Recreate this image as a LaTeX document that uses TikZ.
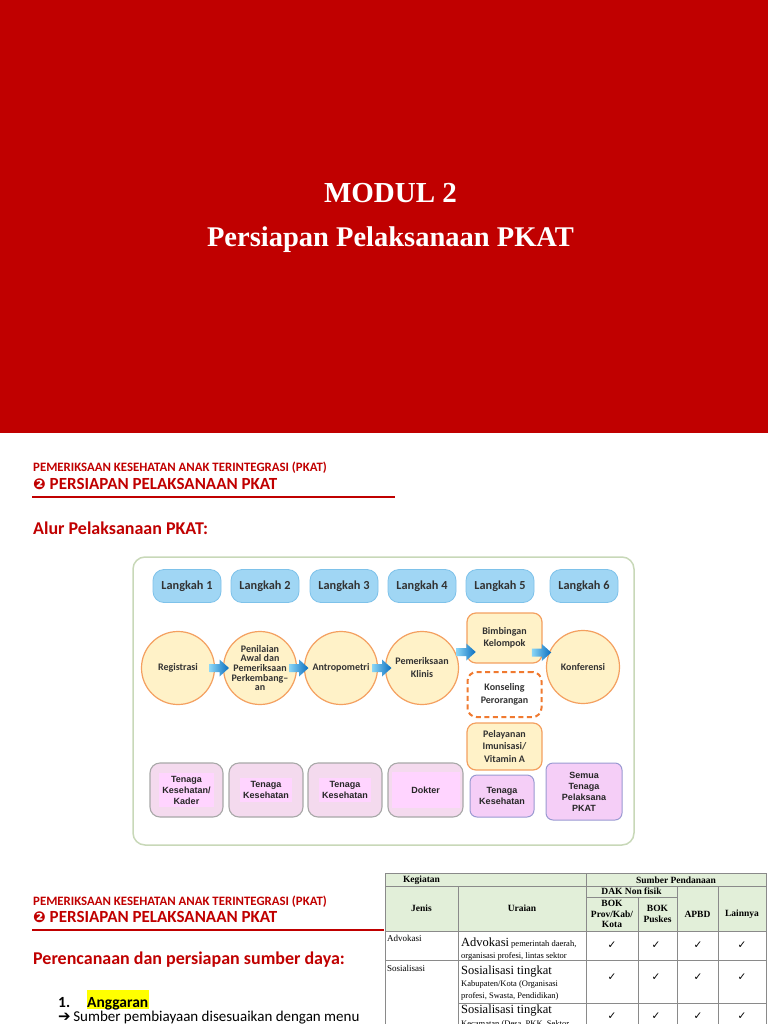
\documentclass[tikz,border=0pt]{standalone}
\usepackage{fontspec}
\setmainfont{Carlito}
\newfontfamily\timesf{Liberation Serif}
\newfontfamily\arialf{Liberation Sans}
\newfontfamily\dejavuf{DejaVu Sans}
\usetikzlibrary{calc}
\definecolor{pkred}{HTML}{C00000}
\definecolor{pillf}{HTML}{A0D6F4}
\definecolor{pillb}{HTML}{7EC2EA}
\definecolor{txtd}{HTML}{333333}
\definecolor{orng}{HTML}{F4A060}
\definecolor{orngd}{HTML}{F07A30}
\definecolor{cream}{HTML}{FFF2C8}
\definecolor{pinko}{HTML}{F4DAEE}
\definecolor{pinki}{HTML}{FFD4FF}
\definecolor{pinkb}{HTML}{A8A8A8}
\definecolor{violf}{HTML}{F5CEF7}
\definecolor{violb}{HTML}{9A9AD2}
\definecolor{arrl}{HTML}{8AD6F6}
\definecolor{arrd}{HTML}{0A6EC0}
\definecolor{frameb}{HTML}{C8D8B8}
\definecolor{tabg}{HTML}{E2EFD9}
\definecolor{tabl}{HTML}{8A8A8A}
\definecolor{hiyel}{HTML}{FFFF00}
\begin{document}
\begin{tikzpicture}[x=1pt,y=-1pt,
  langkah/.style={draw=pillb, fill=pillf, rounded corners=11pt, minimum width=68pt, minimum height=33pt, inner sep=0pt, line width=0.8pt, text=txtd, font=\fontsize{12.3}{14}\selectfont\bfseries},
  stepc/.style={circle, draw=orng, fill=cream, line width=1.2pt, minimum size=73pt, inner sep=0pt, align=center, text=txtd, font=\fontsize{10}{9.6}\selectfont\bfseries},
  stepbx/.style={draw=orng, fill=cream, rounded corners=9pt, line width=1.2pt, minimum width=75pt, inner sep=0pt, align=center, text=txtd, font=\fontsize{10}{12.5}\selectfont\bfseries},
  dashbx/.style={draw=orngd, fill=white, dash pattern=on 5pt off 3.5pt, rounded corners=9pt, line width=2pt, minimum width=74pt, inner sep=0pt, align=center, text=txtd, font=\fontsize{10}{12.5}\selectfont\bfseries},
  barrow/.pic={\shade[left color=arrl, right color=arrd] (-9.5,-4) -- (0.5,-4) -- (0.5,-8.5) -- (10,0) -- (0.5,8.5) -- (0.5,4) -- (-9.5,4) -- cycle;},
  pinkbox/.style={draw=pinkb, fill=pinko, rounded corners=10pt, line width=1.1pt, minimum height=54pt, inner sep=0pt},
  pinkin/.style={fill=pinki, inner sep=3pt, align=center, font=\arialf\fontsize{9}{11}\selectfont\bfseries, text=black!85},
  violbox/.style={draw=violb, fill=violf, rounded corners=7pt, line width=1pt, inner sep=0pt, align=center, font=\arialf\fontsize{9}{11}\selectfont\bfseries, text=black!85},
  hdtxt/.style={anchor=base west, inner sep=0pt, text=pkred},
  th/.style={inner sep=0pt, align=center, font=\timesf\fontsize{9.5}{10.5}\selectfont\bfseries},
  tb/.style={anchor=base west, inner sep=0pt, font=\timesf\fontsize{8.5}{10}\selectfont},
  ck/.style={inner sep=0pt, font=\dejavuf\fontsize{10.5}{11}\selectfont}
]
\useasboundingbox (0,0) rectangle (768,1024);
% red title band
\fill[pkred] (0,0) rectangle (768,433);
\node[anchor=base, inner sep=0pt, text=white, font=\timesf\fontsize{29}{32}\selectfont\bfseries] (t1) at (390.5,203) {MODUL 2};
\node[anchor=base, inner sep=0pt, text=white, font=\timesf\fontsize{28.5}{32}\selectfont\bfseries] (t2) at (390.5,246) {Persiapan Pelaksanaan PKAT};

% section 1 header
\node[hdtxt, font=\fontsize{12.8}{14}\selectfont\bfseries] (h1) at (33,471) {PEMERIKSAAN KESEHATAN ANAK TERINTEGRASI (PKAT)};
\node[hdtxt, font=\fontsize{17}{18}\selectfont\bfseries] (h2) at (33,489) {{\dejavuf\fontsize{15}{16}\selectfont ❷} PERSIAPAN PELAKSANAAN PKAT};
\draw[pkred, line width=2pt] (32,497) -- (395,497);
\node[hdtxt, font=\fontsize{18}{20}\selectfont\bfseries] (h3) at (33,534) {Alur Pelaksanaan PKAT:};

% diagram frame
\draw[frameb, line width=1.5pt, fill=white, rounded corners=12pt] (133,557) rectangle (634,845);

% langkah pills
\node[langkah] (l1) at (187,586) {Langkah 1};
\node[langkah] (l2) at (265,586) {Langkah 2};
\node[langkah] (l3) at (344,586) {Langkah 3};
\node[langkah] (l4) at (422,586) {Langkah 4};
\node[langkah] (l5) at (500,586) {Langkah 5};
\node[langkah] (l6) at (584,586) {Langkah 6};

% circles
\node[stepc] (reg) at (178,668) {Registrasi};
\node[stepc] (pen) at (260,668) {Penilaian\\Awal dan\\Pemeriksaan\\Perkembang--\\an};
\node[stepc] (ant) at (341,668) {Antropometri};
\node[stepc, font=\fontsize{10}{13}\selectfont\bfseries] (kli) at (422,668) {Pemeriksaan\\Klinis};
\node[stepc] (konf) at (583,667) {Konferensi};

% step 5 boxes
\node[stepbx, minimum height=50pt] (bim) at (504.5,638) {Bimbingan\\Kelompok};
\node[dashbx, minimum height=45pt] (kons) at (504.5,694.5) {Konseling\\Perorangan};
\node[stepbx, minimum height=47pt] (imun) at (504.5,746.5) {Pelayanan\\Imunisasi/\\Vitamin A};

% arrows between steps
\pic at ($(reg.east)!0.5!(pen.west)$) {barrow};
\pic at ($(pen.east)!0.5!(ant.west)+(-2,0)$) {barrow};
\pic at ($(ant.east)!0.5!(kli.west)$) {barrow};
\pic at ($(kli.east)!0.5!(bim.west)+(3,-1)$) {barrow};
\pic at ($(bim.east)!0.5!(konf.west)+(-3,0)$) {barrow};

% bottom boxes
\node[pinkbox, minimum width=73pt] (b1) at (186.5,790) {};
\node[pinkin] at (b1) {Tenaga\\Kesehatan/\\Kader};
\node[pinkbox, minimum width=74pt] (b2) at (266,790) {};
\node[pinkin] at (b2) {Tenaga\\Kesehatan};
\node[pinkbox, minimum width=74pt] (b3) at (345,790) {};
\node[pinkin] at (b3) {Tenaga\\Kesehatan};
\node[pinkbox, minimum width=75pt] (b4) at (425.5,790) {};
\node[pinkin, minimum width=68pt, minimum height=36pt] at (b4) {Dokter};
\node[violbox, minimum width=64pt, minimum height=42pt] (b5) at (502,796) {Tenaga\\Kesehatan};
\node[violbox, minimum width=76pt, minimum height=57pt] (b6) at (584,791.5) {Semua\\Tenaga\\Pelaksana\\PKAT};

% section 2 header
\node[hdtxt, font=\fontsize{12.8}{14}\selectfont\bfseries] (s1) at (33,905) {PEMERIKSAAN KESEHATAN ANAK TERINTEGRASI (PKAT)};
\node[hdtxt, font=\fontsize{17}{18}\selectfont\bfseries] (s2) at (33,922) {{\dejavuf\fontsize{15}{16}\selectfont ❷} PERSIAPAN PELAKSANAAN PKAT};
\draw[pkred, line width=2pt] (32,930) -- (384,930);
\node[hdtxt, font=\fontsize{18}{20}\selectfont\bfseries] (s3) at (33,964) {Perencanaan dan persiapan sumber daya:};
\fill[hiyel] (87,990) rectangle (149,1009);
\node[anchor=base west, inner sep=0pt, font=\fontsize{15.5}{18}\selectfont\bfseries] (n1) at (58,1007) {1.};
\node[anchor=base west, inner sep=0pt, font=\fontsize{15.5}{18}\selectfont\bfseries] (n2) at (87,1007) {Anggaran};
\node[anchor=base west, inner sep=0pt, font=\fontsize{15}{18}\selectfont] (n3) at (58,1021) {{\dejavuf\fontsize{15}{15}\selectfont ➔}\,Sumber pembiayaan disesuaikan dengan menu};

% table
\fill[tabg] (385,873) rectangle (766,931);
\fill[white] (385,931) rectangle (766,1030);
\begin{scope}[tabl, line width=0.6pt]
\draw (385,873) -- (766,873);
\draw (385,886) -- (766,886);
\draw (586,897) -- (677,897);
\draw (385,931) -- (766,931);
\draw (385,960) -- (766,960);
\draw (458,1003) -- (766,1003);
\draw (385,873) -- (385,1030);
\draw (458,886) -- (458,1030);
\draw (586,873) -- (586,1030);
\draw (638,897) -- (638,1030);
\draw (677,886) -- (677,1030);
\draw (718,886) -- (718,1030);
\draw (766,873) -- (766,1030);
\end{scope}
\node[th] (k1) at (421.5,880) {Kegiatan};
\node[th] (k2) at (676,880) {Sumber Pendanaan};
\node[th] (k3) at (631.5,891.5) {DAK Non fisik};
\node[th] (k4) at (421.5,908.5) {Jenis};
\node[th] (k5) at (522,908.5) {Uraian};
\node[th] (k6) at (612,914) {BOK\\Prov/Kab/\\Kota};
\node[th] (k7) at (657.5,914) {BOK\\Puskes};
\node[th] (k8) at (697.5,914) {APBD};
\node[th] (k9) at (742,914) {Lainnya};

\node[tb, font=\timesf\fontsize{9}{10}\selectfont] (j1) at (387,941) {Advokasi};
\node[tb, font=\timesf\fontsize{9}{10}\selectfont] (j2) at (387,971) {Sosialisasi};
\node[tb] (u1) at (461,946) {{\fontsize{12.5}{12}\selectfont Advokasi} pemerintah daerah,};
\node[tb] (u2) at (461,958) {organisasi profesi, lintas sektor};
\node[tb] (u3) at (461,974) {{\fontsize{12.5}{12}\selectfont Sosialisasi tingkat}};
\node[tb] (u4) at (461,986) {Kabupaten/Kota (Organisasi};
\node[tb] (u5) at (461,998) {profesi, Swasta, Pendidikan)};
\node[tb] (u6) at (461,1013) {{\fontsize{12.5}{12}\selectfont Sosialisasi tingkat}};
\node[tb] (u7) at (461,1026) {Kecamatan (Desa, PKK, Sektor};

\foreach \cx in {612,656,698,742}{
  \foreach \cy in {945,977,1016}{
    \node[ck] at (\cx,\cy) {✓};
  }
}
\end{tikzpicture}
\end{document}
